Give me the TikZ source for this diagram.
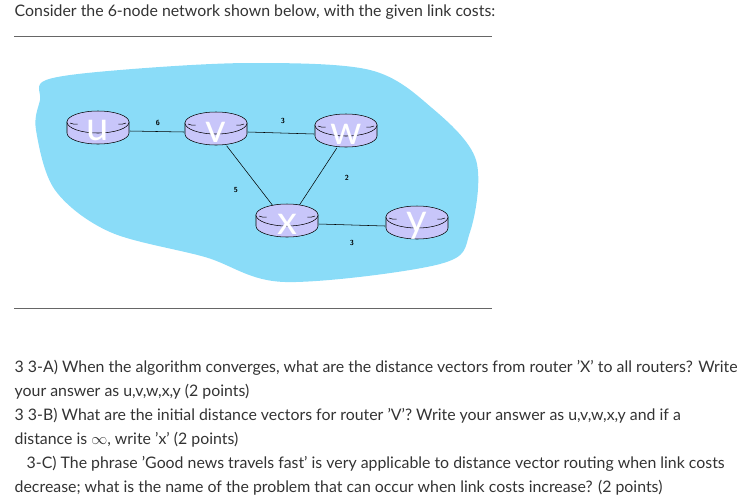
\documentclass[tikz,border=0pt]{standalone}
\usepackage{fontspec}
\setmainfont{Lato}
\usetikzlibrary{shapes.geometric}
\pgfdeclarelayer{back}
\pgfdeclarelayer{links}
\pgfsetlayers{back,links,main}
\definecolor{cloudblue}{RGB}{138,220,248}
\definecolor{routerfill}{RGB}{200,198,250}
\tikzset{router/.style={ellipse,minimum width=47.5pt,minimum height=20pt,inner sep=0pt},
  cost/.style={font=\sffamily\bfseries\fontsize{5.5}{6}\selectfont},
  para/.style={anchor=west,font=\fontsize{11.9}{13}\selectfont,text=black!80}}

% router: cylinder with white letter
\newcommand{\rtr}[3]{%
  \fill[routerfill,draw=black,thin] (#2)++(-31,-5) -- ++(0,11) arc (180:360:23.25pt and 8.25pt) -- ++(0,-11) -- cycle;
  \draw[fill=routerfill,thin] (#2)++(0,-5) ellipse (23.25pt and 8.25pt);
  \draw[thin] (#2)++(-31,-5) ++(3,1) arc (-130:-80:7pt and 4pt);
  \draw[thin] (#2)++(31,-5) ++(-3,1) arc (-50:-100:7pt and 4pt);
  \node[router,text=white,font=\fontsize{30}{30}\selectfont] (#1) at ([yshift=-3pt]#2) {#3};}

\begin{document}
\begin{tikzpicture}[x=0.75pt,y=-0.75pt]
  \useasboundingbox (0,0) rectangle (753,501);

  \node[para] at (10,12) {Consider the 6-node network shown below, with the given link costs:};
  \draw[black!60] (14,36) -- (492,36);
  \draw[black!60] (14,308) -- (492,308);

  % cloud
  \begin{pgfonlayer}{back}
  \fill[cloudblue] plot[smooth cycle,tension=0.55] coordinates {(46,80) (120,70) (250,63) (370,70) (432,108) (476,160) (470,232) (440,264) (285,282) (205,257) (110,232) (55,190) (36,130) (40,100)};
  \end{pgfonlayer}

  % routers
  \rtr{u}{98,127}{u}
  \rtr{v}{216,128}{v}
  \rtr{w}{346,130}{w}
  \rtr{x}{287,220}{x}
  \rtr{y}{417,222}{y}

  % links
  \begin{pgfonlayer}{links}
  \draw (u.east) -- (v.west);
  \draw (v.east) -- (w.west);
  \draw (v) -- (x);
  \draw (w) -- (x);
  \draw (x.east) -- (y.west);
  \end{pgfonlayer}

  \node[cost] at (158,123) {6};
  \node[cost] at (283,121) {3};
  \node[cost] at (347,178) {2};
  \node[cost] at (236,190) {5};
  \node[cost] at (352,243) {3};

  \node[para] at (10,368) {3 3-A) When the algorithm converges, what are the distance vectors from router 'X' to all routers? Write};
  \node[para] at (10,392) {your answer as u,v,w,x,y (2 points)};
  \node[para] at (10,416) {3 3-B) What are the initial distance vectors for router 'V'? Write your answer as u,v,w,x,y and if a};
  \node[para] at (10,440) {distance is $\infty$, write 'x' (2 points)};
  \node[para] at (22,464) {3-C) The phrase 'Good news travels fast' is very applicable to distance vector routing when link costs};
  \node[para] at (10,488) {decrease; what is the name of the problem that can occur when link costs increase? (2 points)};
\end{tikzpicture}
\end{document}
